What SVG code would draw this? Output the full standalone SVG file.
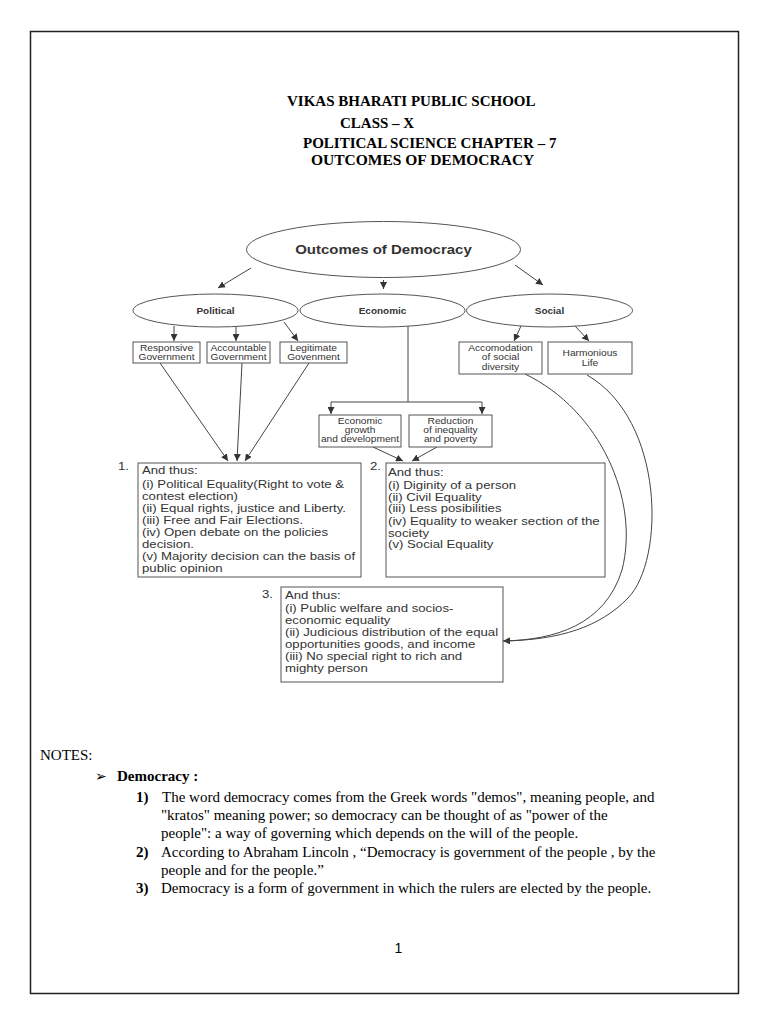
<svg xmlns="http://www.w3.org/2000/svg" width="768" height="1024" viewBox="0 0 768 1024">
<style>
.hd{font-family:"Liberation Serif","Times New Roman",serif;font-weight:bold;font-size:15px;fill:#000}
.nt{font-family:"Liberation Serif","Times New Roman",serif;font-size:15px;fill:#000}
.ntb{font-family:"Liberation Serif","Times New Roman",serif;font-size:15px;font-weight:bold;fill:#000}
.dg{font-family:"Liberation Sans",Arial,sans-serif;fill:#333}
.big{font-size:12.5px;font-weight:bold}
.cat{font-size:8.3px;font-weight:bold}
.sm{font-size:8.5px}
.bx{font-size:11px}
.shape{fill:#fff;stroke:#555;stroke-width:1}
.ln{fill:none;stroke:#444;stroke-width:1}
</style>
<defs>
<marker id="ah" viewBox="0 0 10 10" refX="10" refY="5" markerWidth="7" markerHeight="7" orient="auto" markerUnits="userSpaceOnUse"><path d="M0,0 L10,5 L0,10 z" fill="#333"/></marker>
</defs>
<rect x="30.5" y="31.5" width="708" height="962" fill="#fff" stroke="#222" stroke-width="1.5"/>

<g id="heading">
<text class="hd" x="287" y="106">VIKAS BHARATI PUBLIC SCHOOL</text>
<text class="hd" x="340" y="128">CLASS – X</text>
<text class="hd" x="303" y="148">POLITICAL SCIENCE CHAPTER – 7</text>
<text class="hd" x="311" y="165" style="font-size:15.5px">OUTCOMES OF DEMOCRACY</text>
</g>

<g id="connectors">
<line class="ln" x1="251" y1="268" x2="218" y2="288" marker-end="url(#ah)"/>
<line class="ln" x1="383.5" y1="280" x2="383.5" y2="289" marker-end="url(#ah)"/>
<line class="ln" x1="515" y1="265" x2="543" y2="285" marker-end="url(#ah)"/>
<line class="ln" x1="174" y1="326" x2="174" y2="341" marker-end="url(#ah)"/>
<line class="ln" x1="236" y1="326" x2="236" y2="341" marker-end="url(#ah)"/>
<line class="ln" x1="284" y1="322" x2="298" y2="341" marker-end="url(#ah)"/>
<line class="ln" x1="521" y1="326" x2="514" y2="341" marker-end="url(#ah)"/>
<line class="ln" x1="575" y1="326" x2="589" y2="341" marker-end="url(#ah)"/>
<polyline class="ln" points="408,326 408,402 331,402 331,414" marker-end="url(#ah)"/>
<polyline class="ln" points="408,402 482,402 482,414" marker-end="url(#ah)"/>
<line class="ln" x1="160" y1="363" x2="228" y2="461" marker-end="url(#ah)"/>
<line class="ln" x1="242" y1="363" x2="237" y2="461" marker-end="url(#ah)"/>
<line class="ln" x1="309" y1="363" x2="245" y2="461" marker-end="url(#ah)"/>
<line class="ln" x1="373" y1="447" x2="403" y2="461" marker-end="url(#ah)"/>
<line class="ln" x1="437" y1="447" x2="412" y2="461" marker-end="url(#ah)"/>
<path class="ln" d="M525,374 C600,410 640,500 622,570 C605,625 555,640 503,641" marker-end="url(#ah)"/>
<path class="ln" d="M587,375 C665,420 665,560 628,598 C600,627 560,640 503,641"/>
</g>

<g id="n-outcomes">
<ellipse class="shape" cx="383.5" cy="249.5" rx="137" ry="28"/>
<text class="dg big" text-anchor="middle" transform="translate(383.5 254) scale(1.2 1)">Outcomes of Democracy</text>
</g>
<g id="n-political">
<ellipse class="shape" cx="215.5" cy="310.5" rx="82.5" ry="16.5"/>
<text class="dg cat" text-anchor="middle" transform="translate(215.5 313.5) scale(1.2 1)">Political</text>
</g>
<g id="n-economic">
<ellipse class="shape" cx="382.5" cy="310.5" rx="82.5" ry="16.5"/>
<text class="dg cat" text-anchor="middle" transform="translate(382.5 313.5) scale(1.2 1)">Economic</text>
</g>
<g id="n-social">
<ellipse class="shape" cx="549.5" cy="310.5" rx="83" ry="16.5"/>
<text class="dg cat" text-anchor="middle" transform="translate(549.5 313.5) scale(1.2 1)">Social</text>
</g>

<g id="n-responsive">
<rect class="shape" x="133" y="342" width="67" height="21"/>
<text class="dg sm" text-anchor="middle" transform="translate(166.5 0) scale(1.2 1)"><tspan x="0" y="351">Responsive</tspan><tspan x="0" y="360">Government</tspan></text>
</g>
<g id="n-accountable">
<rect class="shape" x="207" y="342" width="63" height="21"/>
<text class="dg sm" text-anchor="middle" transform="translate(238.5 0) scale(1.2 1)"><tspan x="0" y="351">Accountable</tspan><tspan x="0" y="360">Government</tspan></text>
</g>
<g id="n-legitimate">
<rect class="shape" x="280" y="342" width="67" height="21"/>
<text class="dg sm" text-anchor="middle" transform="translate(313.5 0) scale(1.2 1)"><tspan x="0" y="351">Legitimate</tspan><tspan x="0" y="360">Govenment</tspan></text>
</g>
<g id="n-accomodation">
<rect class="shape" x="459" y="342" width="83" height="32"/>
<text class="dg sm" text-anchor="middle" transform="translate(500.5 0) scale(1.2 1)"><tspan x="0" y="351">Accomodation</tspan><tspan x="0" y="360.5">of social</tspan><tspan x="0" y="370">diversity</tspan></text>
</g>
<g id="n-harmonious">
<rect class="shape" x="548" y="342" width="84" height="32"/>
<text class="dg sm" text-anchor="middle" transform="translate(590 0) scale(1.2 1)"><tspan x="0" y="356">Harmonious</tspan><tspan x="0" y="366">Life</tspan></text>
</g>
<g id="n-econgrowth">
<rect class="shape" x="319" y="415" width="82" height="32"/>
<text class="dg sm" text-anchor="middle" transform="translate(360 0) scale(1.2 1)"><tspan x="0" y="424">Economic</tspan><tspan x="0" y="433">growth</tspan><tspan x="0" y="442">and development</tspan></text>
</g>
<g id="n-reduction">
<rect class="shape" x="409" y="415" width="83" height="32"/>
<text class="dg sm" text-anchor="middle" transform="translate(450.5 0) scale(1.2 1)"><tspan x="0" y="424">Reduction</tspan><tspan x="0" y="433">of inequality</tspan><tspan x="0" y="442">and poverty</tspan></text>
</g>

<g id="n-result1">
<text class="dg bx" transform="translate(118 470) scale(1.2 1)">1.</text>
<rect class="shape" x="138" y="463" width="223" height="114"/>
<text class="dg bx" transform="translate(142 0) scale(1.2 1)"><tspan x="0" y="474">And thus:</tspan><tspan x="0" y="488">(i) Political Equality(Right to vote &amp;</tspan><tspan x="0" y="500">contest election)</tspan><tspan x="0" y="512">(ii) Equal rights, justice and Liberty.</tspan><tspan x="0" y="524">(iii) Free and Fair Elections.</tspan><tspan x="0" y="536">(iv) Open debate on the policies</tspan><tspan x="0" y="548">decision.</tspan><tspan x="0" y="560">(v) Majority decision can the basis of</tspan><tspan x="0" y="572">public opinion</tspan></text>
</g>
<g id="n-result2">
<text class="dg bx" transform="translate(370 470) scale(1.2 1)">2.</text>
<rect class="shape" x="386" y="463" width="219" height="114"/>
<text class="dg bx" transform="translate(388 0) scale(1.2 1)"><tspan x="0" y="476">And thus:</tspan><tspan x="0" y="489">(i) Diginity of a person</tspan><tspan x="0" y="501">(ii) Civil Equality</tspan><tspan x="0" y="512">(iii) Less posibilities</tspan><tspan x="0" y="525">(iv) Equality to weaker section of the</tspan><tspan x="0" y="537">society</tspan><tspan x="0" y="548">(v) Social Equality</tspan></text>
</g>
<g id="n-result3">
<text class="dg bx" transform="translate(262 598) scale(1.2 1)">3.</text>
<rect class="shape" x="281" y="587" width="222" height="95"/>
<text class="dg bx" transform="translate(285 0) scale(1.2 1)"><tspan x="0" y="599">And thus:</tspan><tspan x="0" y="612">(i) Public welfare and socios-</tspan><tspan x="0" y="624">economic equality</tspan><tspan x="0" y="636">(ii) Judicious distribution of the equal</tspan><tspan x="0" y="648">opportunities goods, and income</tspan><tspan x="0" y="660">(iii) No special right to rich and</tspan><tspan x="0" y="672">mighty person</tspan></text>
</g>

<g id="notes">
<text class="nt" x="40" y="760">NOTES:</text>
<text x="95" y="781" font-family="DejaVu Sans, sans-serif" font-size="14" fill="#000">➢</text>
<text class="ntb" x="117" y="781">Democracy :</text>
<text class="ntb" x="136" y="802">1)</text>
<text class="nt" x="162" y="802">The word democracy comes from the Greek words "demos", meaning people, and</text>
<text class="nt" x="161" y="820">"kratos" meaning power; so democracy can be thought of as "power of the</text>
<text class="nt" x="161" y="838">people": a way of governing which depends on the will of the people.</text>
<text class="ntb" x="136" y="857">2)</text>
<text class="nt" x="161" y="857">According to Abraham Lincoln , “Democracy is government of the people , by the</text>
<text class="nt" x="161" y="875">people and for the people.”</text>
<text class="ntb" x="136" y="893">3)</text>
<text class="nt" x="161" y="893">Democracy is a form of government in which the rulers are elected by the people.</text>
<text x="398.5" y="953" text-anchor="middle" font-family="Liberation Sans, Arial, sans-serif" font-size="14" fill="#000">1</text>
</g>
</svg>
